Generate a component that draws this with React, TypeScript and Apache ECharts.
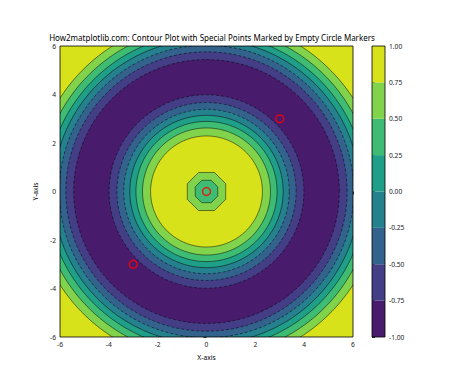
import React, { useEffect, useRef } from "react";
import * as echarts from "echarts";

const titleText = "How2matplotlib.com: Contour Plot with Special Points Marked by Empty Circle Markers";
const axisTicks = [-6, -4, -2, 0, 2, 4, 6];
const levels = [-1, -0.75, -0.5, -0.25, 0, 0.25, 0.5, 0.75, 1];
const bandColors = ["#481b6d", "#433e85", "#33628d", "#26818e", "#1f9f88", "#3fbc73", "#82d34c", "#d7e21b"];
// contour boundaries, outermost first
const boundaryRadii = [7.13, 6.81, 6.53, 6.28, 6.03, 5.76, 5.44, 3.99, 3.67, 3.39, 3.14, 2.89, 2.62, 2.29, 0.85, 0.5];
const boundaryLevels = [0.75, 0.5, 0.25, 0, -0.25, -0.5, -0.75, -0.75, -0.5, -0.25, 0, 0.25, 0.5, 0.75, 0.75, 0.5];
const innerBands = [6, 5, 4, 3, 2, 1, 0, 1, 2, 3, 4, 5, 6, 7, 6, 5];
const outerBand = 7;
const specialPoints = [[0, 0], [3, 3], [-3, -3]];

const FONT = "Noto Sans";

export default function App() {
  const ref = useRef<HTMLDivElement>(null);
  useEffect(() => {
    document.body.style.margin = "0";
    const chart = echarts.init(ref.current!, null, { renderer: "svg" });
    const lo = axisTicks[0];
    const hi = axisTicks[axisTicks.length - 1];

    const ringPoints = (api: any, r: number) => {
      const n = r < 1 ? 8 : 180;
      const off = r < 1 ? Math.PI / 8 : 0;
      const pts: number[][] = [];
      for (let k = 0; k < n; k++) {
        const a = off + (k * 2 * Math.PI) / n;
        pts.push(api.coord([r * Math.cos(a), r * Math.sin(a)]));
      }
      return pts;
    };

    const fillData = [[0, 0, outerBand]].concat(
      boundaryRadii.map((r, i) => [r, boundaryLevels[i], innerBands[i]])
    );
    const lineData = boundaryRadii.map((r, i) => [r, boundaryLevels[i]]);
    const barData = bandColors.map((_, i) => [levels[i], levels[i + 1], i]);

    const tickLabel = { fontFamily: FONT, fontSize: 6.7, color: "#222" };

    chart.setOption({
      animation: false,
      title: {
        text: titleText,
        left: 207,
        top: 28,
        textAlign: "center",
        textStyle: { fontFamily: FONT, fontSize: 8, fontWeight: "normal", color: "#000" },
      },
      grid: [
        { left: 60, top: 46, width: 293, height: 291, show: true, backgroundColor: "transparent", borderColor: "#000", borderWidth: 0.8, z: 10 },
        { left: 372, top: 46, width: 13, height: 291, show: true, backgroundColor: "transparent", borderColor: "#000", borderWidth: 0.8, z: 10 },
      ],
      xAxis: [
        {
          type: "value", gridIndex: 0, min: lo, max: hi, interval: 2,
          name: "X-axis", nameLocation: "middle", nameGap: 17,
          nameTextStyle: { fontFamily: FONT, fontSize: 6.7, color: "#000" },
          axisLine: { show: false }, splitLine: { show: false },
          axisTick: { show: true, length: 3, lineStyle: { color: "#000", width: 0.8 } },
          axisLabel: { ...tickLabel, margin: 4 },
        },
        { type: "value", gridIndex: 1, min: 0, max: 1, show: false },
      ],
      yAxis: [
        {
          type: "value", gridIndex: 0, min: lo, max: hi, interval: 2,
          name: "Y-axis", nameLocation: "middle", nameGap: 18,
          nameTextStyle: { fontFamily: FONT, fontSize: 6.7, color: "#000" },
          axisLine: { show: false }, splitLine: { show: false },
          axisTick: { show: true, length: 3, lineStyle: { color: "#000", width: 0.8 } },
          axisLabel: { ...tickLabel, margin: 4 },
        },
        {
          type: "value", gridIndex: 1, min: -1, max: 1, interval: 0.25, position: "right",
          axisLine: { show: false }, splitLine: { show: false },
          axisTick: { show: true, length: 3, lineStyle: { color: "#000", width: 0.8 } },
          axisLabel: { ...tickLabel, margin: 4, formatter: (v: number) => v.toFixed(2) },
        },
      ],
      series: [
        {
          type: "custom", xAxisIndex: 0, yAxisIndex: 0, clip: true, silent: true,
          data: fillData,
          renderItem: (params: any, api: any) => {
            const r = api.value(0);
            const band = api.value(2);
            if (params.dataIndex === 0) {
              const p1 = api.coord([lo, hi]);
              const p2 = api.coord([hi, lo]);
              return { type: "rect", shape: { x: p1[0], y: p1[1], width: p2[0] - p1[0], height: p2[1] - p1[1] }, style: { fill: bandColors[band] } };
            }
            return { type: "polygon", shape: { points: ringPoints(api, r) }, style: { fill: bandColors[band] } };
          },
        },
        {
          type: "custom", xAxisIndex: 0, yAxisIndex: 0, clip: true, silent: true,
          data: lineData,
          renderItem: (params: any, api: any) => {
            const r = api.value(0);
            const lv = api.value(1);
            return {
              type: "polygon",
              shape: { points: ringPoints(api, r) },
              style: { fill: "none", stroke: "rgba(0,0,0,0.55)", lineWidth: 0.9, lineDash: lv < 0 ? [3, 2] : null },
            };
          },
        },
        {
          type: "scatter", xAxisIndex: 0, yAxisIndex: 0, silent: true,
          data: specialPoints, symbol: "circle", symbolSize: 8, z: 5,
          itemStyle: { color: "transparent", borderColor: "#ff0000", borderWidth: 1.5 },
        },
        {
          type: "custom", xAxisIndex: 1, yAxisIndex: 1, silent: true,
          data: barData,
          renderItem: (params: any, api: any) => {
            const p1 = api.coord([0, api.value(1)]);
            const p2 = api.coord([1, api.value(0)]);
            return { type: "rect", shape: { x: p1[0], y: p1[1], width: p2[0] - p1[0], height: p2[1] - p1[1] }, style: { fill: bandColors[api.value(2)] } };
          },
        },
      ],
    });
    return () => chart.dispose();
  }, []);
  return <div ref={ref} style={{ width: 474, height: 379 }} />;
}
